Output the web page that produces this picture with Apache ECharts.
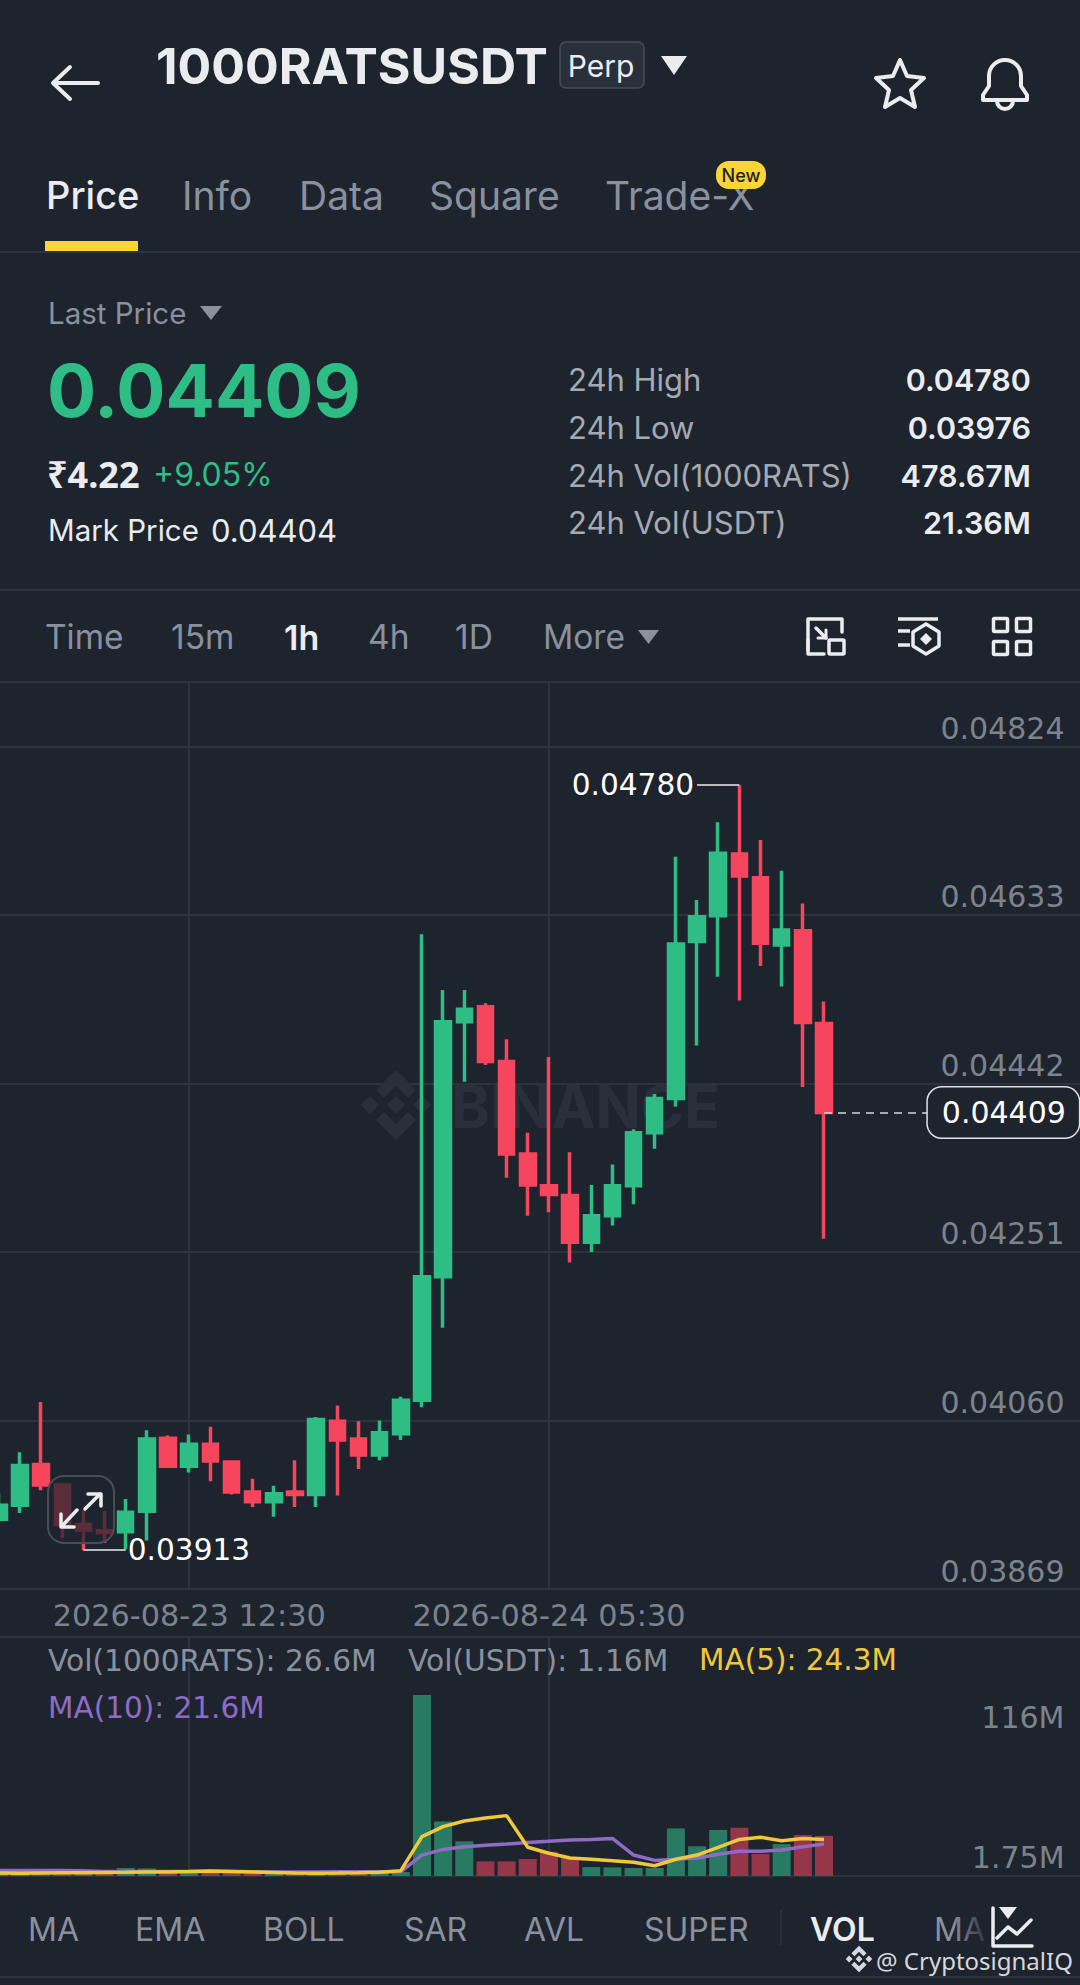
<!DOCTYPE html>
<html><head><meta charset="utf-8">
<style>html,body{margin:0;padding:0;background:#1e242e}#c{width:1080px;height:1985px}</style>
<script src="https://cdn.jsdelivr.net/npm/echarts@6/dist/echarts.min.js"></script>
</head><body><div id="c"></div>
<script>
const times = ['2026-08-23 03:30','2026-08-23 04:30','2026-08-23 05:30','2026-08-23 06:30','2026-08-23 07:30','2026-08-23 08:30','2026-08-23 09:30','2026-08-23 10:30','2026-08-23 11:30','2026-08-23 12:30','2026-08-23 13:30','2026-08-23 14:30','2026-08-23 15:30','2026-08-23 16:30','2026-08-23 17:30','2026-08-23 18:30','2026-08-23 19:30','2026-08-23 20:30','2026-08-23 21:30','2026-08-23 22:30','2026-08-23 23:30','2026-08-24 00:30','2026-08-24 01:30','2026-08-24 02:30','2026-08-24 03:30','2026-08-24 04:30','2026-08-24 05:30','2026-08-24 06:30','2026-08-24 07:30','2026-08-24 08:30','2026-08-24 09:30','2026-08-24 10:30','2026-08-24 11:30','2026-08-24 12:30','2026-08-24 13:30','2026-08-24 14:30','2026-08-24 15:30','2026-08-24 16:30','2026-08-24 17:30','2026-08-24 18:30'];
const futureSlots = ['+1','+2','+3','+4','+5','+6','+7','+8','+9','+10','+11','+12'];
const labelledTimes = ['2026-08-23 12:30','2026-08-24 05:30'];
const open  = [.03948,.03964,.04010,.03987,.03942,.03935,.03934,.03957,.04040,.04008,.04033,.04013,.03979,.03968,.03979,.03976,.04059,.04039,.04021,.04045,.04083,.04223,.04512,.04529,.04467,.04362,.04326,.04315,.04262,.04292,.04326,.04386,.04425,.04603,.04632,.04702,.04675,.04599,.04615,.04510];
const close = [.03964,.04009,.03987,.03942,.03936,.03933,.03956,.04039,.04008,.04033,.04014,.03979,.03968,.03977,.03976,.04061,.04038,.04021,.04046,.04083,.04223,.04512,.04526,.04467,.04362,.04327,.04316,.04262,.04292,.04326,.04386,.04425,.04600,.04631,.04703,.04677,.04601,.04616,.04511,.04409];
const low   = [.03945,.03955,.03981,.03927,.03913,.03921,.03914,.03924,.04008,.04001,.03991,.03976,.03962,.03951,.03962,.03962,.03975,.04005,.04015,.04038,.04075,.04165,.04444,.04463,.04335,.04292,.04296,.04239,.04251,.04281,.04305,.04368,.04416,.04485,.04563,.04536,.04575,.04552,.04438,.04266];
const high  = [.03978,.04024,.04081,.03989,.03959,.03957,.03971,.04049,.04043,.04044,.04053,.04014,.03994,.03986,.04015,.04064,.04077,.04059,.04060,.04087,.04611,.04548,.04548,.04533,.04492,.04386,.04472,.04364,.04327,.04350,.04390,.04430,.04699,.04650,.04738,.04780,.04718,.04683,.04646,.04535];
const volume= [3.4,3.6,4.6,4.2,3.4,3.2,6.7,6.4,4.4,4.0,4.5,3.8,3.3,3.0,3.2,4.4,4.6,3.9,3.7,4.2,113.7,35.4,23.2,10.8,10.8,12.3,16.8,13.3,7.3,7.1,6.7,6.7,31.2,20.1,30.2,31.6,15.4,21.5,27.1,26.6];
const ma5   = [3.6,3.4,3.6,3.7,3.8,3.9,4.0,4.2,4.3,4.5,4.9,4.6,4.2,3.9,3.6,3.5,3.6,3.8,4.1,5.05,26.1,32.3,35.8,37.6,39.1,19.5,15.8,12.9,12.1,11.2,10.2,8.1,12.1,14.7,19.5,24.4,25.7,23.6,25.0,24.3];
const ma10  = [5.1,5.1,5.1,5.1,5.0,4.6,4.5,4.6,4.6,4.6,4.6,4.5,4.4,4.3,4.3,4.3,4.4,4.4,4.4,4.4,14.7,18.2,19.9,20.7,21.5,22.4,23.2,24.0,24.4,25.0,14.7,11.4,12.1,12.9,15.2,17.0,17.0,17.8,19.9,21.6];
const priceTicks = [.03869,.04060,.04251,.04442,.04633,.04824];
const priceMin = .03869, priceMax = .04897;
const volTicks = [1.75,116];
const volMin = 1.75, volMax = 149.6;
const lastPrice = .04409, highPrice = .04780, lowPrice = .03913;

const BG='#1e242e', LINE='#323843', GREEN='#2ebd85', RED='#f6465d', DIMG='#287b62', DIMR='#963649',
      YEL='#f0c83c', PUR='#8e6cc4', GREY='#8a919e', WHITE='#eaecef', AX='#7d838c', YB='#fcd535';
const UI='Inter, "Noto Sans", sans-serif', NUM='"DejaVu Sans", sans-serif';
const cats = times.concat(futureSlots);
const candle = times.map((_,i)=>[open[i],close[i],low[i],high[i]]);
const volBars = volume.map((v,i)=>({value:v,itemStyle:{color:close[i]>=open[i]?DIMG:DIMR}}));
const isLabelled = (i)=>labelledTimes.includes(cats[i]);
const idxHigh = high.indexOf(highPrice), idxLow = low.indexOf(lowPrice), idxLast = close.length-1;

const G=[];
const T=(x,y,text,size,fill,o)=>G.push({type:'text',x,y,z:50,style:Object.assign({text,fontSize:size,fill,fontFamily:UI,textAlign:'left',textVerticalAlign:'middle'},o||{})});
const L=(x1,y1,x2,y2,c,w)=>G.push({type:'line',z:40,shape:{x1,y1,x2,y2},style:{stroke:c||LINE,lineWidth:w||1.5}});
const P=(pts,c,w)=>G.push({type:'polyline',z:50,shape:{points:pts},style:{stroke:c||WHITE,lineWidth:w||4,fill:null,lineJoin:'round',lineCap:'round'}});
const F=(pts,c,z)=>G.push({type:'polygon',z:z||50,shape:{points:pts},style:{fill:c}});
const R=(x,y,w,h,r,st,z)=>G.push({type:'rect',z:z||49,shape:{x,y,width:w,height:h,r},style:st});
const logo=(cx,cy,s,c,z)=>{const d=(a)=>a.map(p=>[cx+p[0]*s,cy+p[1]*s]);
 F(d([[0,-35],[20,-15],[12,-7],[0,-19],[-12,-7],[-20,-15]]),c,z);F(d([[0,35],[20,15],[12,7],[0,19],[-12,7],[-20,15]]),c,z);
 F(d([[0,-9],[9,0],[0,9],[-9,0]]),c,z);F(d([[-35,0],[-26,-9],[-17,0],[-26,9]]),c,z);F(d([[35,0],[26,-9],[17,0],[26,9]]),c,z);};

// separators
[252,590,682,1637,1977].forEach(y=>L(0,y,1080,y));
// header
P([[98,83],[54,83]]);P([[70,67],[53,83],[70,99]]);
T(156,66,'1000RATSUSDT',50,WHITE,{fontWeight:700});
R(560,42,84,46,6,{fill:'#2a303b',stroke:'#474d57',lineWidth:1.5});
T(601,66,'Perp',30,WHITE,{textAlign:'center'});
F([[661,56],[687,56],[674,75]],WHITE);
P([[900,60],[907,76],[924,78],[911,90],[915,107],[900,98],[885,107],[889,90],[876,78],[893,76],[900,60]]);
G.push({type:'arc',z:50,shape:{cx:1005,cy:76,r:16,startAngle:Math.PI,endAngle:2*Math.PI},style:{stroke:WHITE,lineWidth:4,fill:null}});
P([[989,76],[989,86],[983,95],[983,100],[1027,100],[1027,95],[1021,86],[1021,76]]);
G.push({type:'arc',z:50,shape:{cx:1005,cy:101,r:8,startAngle:0,endAngle:Math.PI},style:{stroke:WHITE,lineWidth:4,fill:null}});
// tabs
T(46,195,'Price',38,WHITE,{fontWeight:500});
[[182,'Info'],[299,'Data'],[429,'Square'],[605,'Trade-X']].forEach(a=>T(a[0],195,a[1],39,GREY));
R(45,241,93,10,0,{fill:YB});
R(716,161,50,28,13,{fill:YB},51);
T(741,175,'New',18,'#1e2329',{textAlign:'center',fontWeight:500,});G[G.length-1].z=52;
// price block
T(48,313,'Last Price',29.5,GREY);
F([[200,306],[222,306],[211,320]],GREY);
T(47,390,'0.04409',73,GREEN,{fontWeight:700});
T(47,474,'₹4.22',36,WHITE,{fontWeight:700,fontFamily:'"Noto Sans", sans-serif'});
T(153,474,'+9.05%',32,GREEN);
T(48,530,'Mark Price',29.5,WHITE);
T(211,530,'0.04404',31,WHITE);
[['24h High','0.04780',379.5],['24h Low','0.03976',427],['24h Vol(1000RATS)','478.67M',475],['24h Vol(USDT)','21.36M',522.5]].forEach(a=>{
 T(568,a[2],a[0],31,'#a4a9b2');T(1031,a[2],a[1],30.5,WHITE,{textAlign:'right',fontWeight:600});});
// interval row
[[45,'Time',GREY],[171,'15m',GREY],[284,'1h',WHITE],[368,'4h',GREY],[455,'1D',GREY],[543,'More',GREY]].forEach(a=>T(a[0],637,a[1],a[1]==='1h'?34:33.5,a[2],a[1]==='1h'?{fontWeight:600}:{}));
F([[638,630],[659,630],[648.5,644]],GREY);
P([[808,650],[808,619],[842,619],[842,632]],WHITE,3.5);P([[808,654],[808,654]],WHITE,3);P([[808,640],[808,654],[824,654]],WHITE,3.5);
R(829,640,15,14,1,{fill:null,stroke:WHITE,lineWidth:3.5},50);P([[816,628],[826,638]],WHITE,3.5);P([[826,630],[826,638],[818,638]],WHITE,3);
L(898,619,938,619,WHITE,3.5);L(898,631,910,631,WHITE,3.5);L(898,645,910,645,WHITE,3.5);
P([[926,624],[939,632],[939,646],[926,654],[913,646],[913,632],[926,624]],WHITE,3.5);F([[926,633],[932,639],[926,645],[920,639]],WHITE);
[[992,617],[1015,617],[992,640],[1015,640]].forEach(a=>R(a[0]+1.5,a[1]+1.5,14,13,1,{fill:null,stroke:WHITE,lineWidth:3.5},50));
// watermark
logo(396,1105,1,'#2a303b',1);
G.push({type:'text',x:451,y:1106,z:1,style:{text:'BINANCE',fontSize:59,fontWeight:700,fill:'#2a303b',fontFamily:UI,textVerticalAlign:'middle'}});
// expand control
R(48,1476,66,67,16,{fill:'rgba(30,36,46,.72)',stroke:'#474d57',lineWidth:2},45);
P([[85,1509],[100,1494]],WHITE,3.5);P([[88,1494],[101,1494],[101,1506]],WHITE,3.5);
P([[77,1510],[62,1526]],WHITE,3.5);P([[61,1514],[61,1527],[74,1527]],WHITE,3.5);
// volume legend
T(48,1660,'Vol(1000RATS): 26.6M',29.7,GREY,{fontFamily:NUM});
T(408,1660,'Vol(USDT): 1.16M',29.7,GREY,{fontFamily:NUM});
T(699,1660,'MA(5): 24.3M',29.5,YEL,{fontFamily:NUM});
T(48,1708,'MA(10): 21.6M',29.5,PUR,{fontFamily:NUM});
// footer
[[28,'MA'],[135,'EMA'],[263,'BOLL'],[404,'SAR'],[524,'AVL'],[644,'SUPER']].forEach(a=>T(a[0],1929,a[1],32,GREY));
L(781,1910,781,1945,'#2e343e',1.5);
T(810,1929,'VOL',32,WHITE,{fontWeight:600});
T(934,1929,'MA',32,GREY);
R(955,1908,36,42,0,{fill:{type:'linear',x:0,y:0,x2:1,y2:0,colorStops:[{offset:0,color:'rgba(30,36,46,0.1)'},{offset:1,color:'rgba(30,36,46,0.95)'}]}},51);
P([[993,1908],[993,1946],[1032,1946]],WHITE,3.5);P([[997,1938],[1008,1927],[1017,1934],[1031,1920]],WHITE,3.5);
F([[999,1907],[1017,1907],[1008,1919]],WHITE);
logo(859,1959,.38,'#d5d8dc');
T(876,1960,'@ CryptosignalIQ',24,'#d5d8dc',{fontFamily:'"Noto Sans", sans-serif'});

const W=21.16, GL=-11.8, GW=W*cats.length;
const numLabel={color:AX,fontFamily:NUM,fontSize:30};
const option={
 animation:false, backgroundColor:BG,
 grid:[{left:GL,top:682,width:GW,height:907,outerBoundsMode:'none'},{left:GL,top:1637,width:GW,height:239,outerBoundsMode:'none'}],
 xAxis:[
  {type:'category',gridIndex:0,data:cats,axisLine:{show:false},axisTick:{show:false},
   axisLabel:{interval:(i)=>isLabelled(i),color:AX,fontFamily:NUM,fontSize:30.3,margin:11,hideOverlap:false},
   splitLine:{show:true,alignWithLabel:true,interval:(i)=>isLabelled(i),lineStyle:{color:LINE,width:1.5}}},
  {type:'category',gridIndex:1,data:cats,axisLine:{show:true,lineStyle:{color:LINE,width:1.5}},axisTick:{show:false},axisLabel:{show:false},
   splitLine:{show:true,alignWithLabel:true,interval:(i)=>isLabelled(i),lineStyle:{color:LINE,width:1.5}}}
 ],
 yAxis:[
  {type:'value',gridIndex:0,position:'right',min:priceMin,max:priceMax,axisLine:{show:false},
   axisTick:{show:false,customValues:priceTicks},
   axisLabel:Object.assign({inside:true,margin:24,verticalAlign:'bottom',padding:[0,0,3,0],customValues:priceTicks,formatter:(v)=>v.toFixed(5)},numLabel),
   splitLine:{show:true,lineStyle:{color:LINE,width:1.5}}},
  {type:'value',gridIndex:1,position:'right',min:volMin,max:volMax,axisLine:{show:false},
   axisTick:{show:false,customValues:volTicks},splitLine:{show:false},
   axisLabel:Object.assign({inside:true,margin:24,verticalAlign:'bottom',verticalAlignMaxLabel:'top',customValues:volTicks,
     formatter:(v)=>v===116?'{a|116M}':'{b|'+v+'M}',
     rich:{a:Object.assign({padding:[11,0,0,0]},numLabel),b:Object.assign({padding:[0,0,4,0]},numLabel)}},numLabel)}
 ],
 series:[
  {type:'candlestick',name:'Price',xAxisIndex:0,yAxisIndex:0,data:candle,barWidth:15,z:5,
   itemStyle:{color:GREEN,color0:RED,borderColor:GREEN,borderColor0:RED,borderWidth:3.5},
   markLine:{silent:true,symbol:'none',z:6,precision:5,data:[
    [{coord:[idxLast,lastPrice],lineStyle:{color:'#d5d8dc',type:[8,6],width:1.5},
      label:{position:'end',distance:-2,formatter:lastPrice.toFixed(5),color:'#fff',fontFamily:NUM,fontSize:30,backgroundColor:BG,borderColor:'#dfe2e6',borderWidth:1.5,borderRadius:14,padding:[10,13,10,14]}},
     {coord:[idxLast+5,lastPrice]}],
    [{coord:[idxHigh,highPrice],lineStyle:{color:'#eaecef',type:'solid',width:1.5},
      label:{position:'end',distance:3,formatter:highPrice.toFixed(5),color:'#fff',fontFamily:NUM,fontSize:29.6}},
     {coord:[idxHigh-2,highPrice]}],
    [{coord:[idxLow,lowPrice],lineStyle:{color:'#eaecef',type:'solid',width:1.5},
      label:{position:'end',distance:2,formatter:lowPrice.toFixed(5),color:'#fff',fontFamily:NUM,fontSize:29.6,padding:[4,0,0,0]}},
     {coord:[idxLow+2,lowPrice]}]
   ]}},
  {type:'bar',name:'Vol',xAxisIndex:1,yAxisIndex:1,data:volBars,barWidth:18,z:3},
  {type:'line',name:'MA(10)',xAxisIndex:1,yAxisIndex:1,data:ma10,showSymbol:false,smooth:false,lineStyle:{color:PUR,width:3.5},z:4},
  {type:'line',name:'MA(5)',xAxisIndex:1,yAxisIndex:1,data:ma5,showSymbol:false,smooth:false,lineStyle:{color:YEL,width:3.5},z:5}
 ],
 graphic:{elements:G}
};
echarts.init(document.getElementById('c'),null,{renderer:'svg',width:1080,height:1985}).setOption(option);
</script></body></html>
